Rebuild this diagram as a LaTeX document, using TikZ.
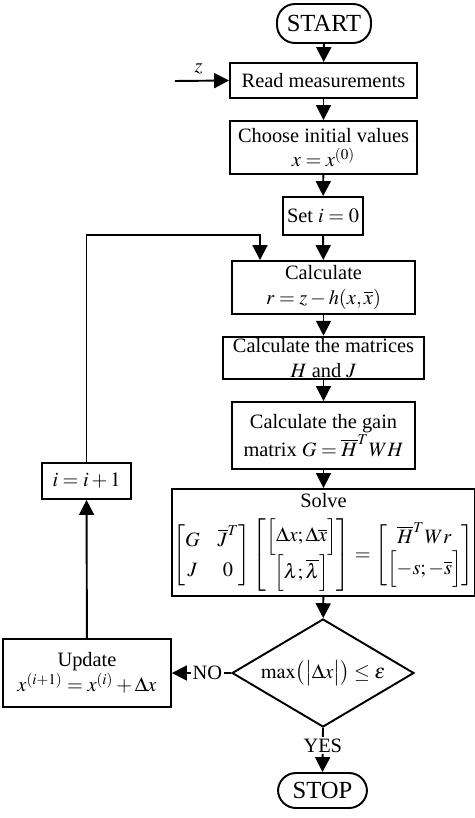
\documentclass[tikz,border=0pt]{standalone}
\usepackage{amsmath}
\usepackage{mathptmx}
\usepackage{fontspec}
\setmainfont{Liberation Serif}
\usetikzlibrary{arrows.meta,shapes.geometric}

\begin{document}
\begin{tikzpicture}[x=0.02cm, y=-0.02cm,
    every node/.style={font=\fontsize{11.6}{14}\selectfont},
    box/.style={draw, line width=1.1pt, align=center, inner sep=1pt},
    term/.style={draw, line width=1.1pt, rounded corners=0.36cm, inner sep=1pt,
        font=\fontsize{14}{16}\selectfont},
    test/.style={draw, line width=1.1pt, diamond, aspect=1.7, inner sep=0pt,
        minimum width=3.64cm, minimum height=2.16cm},
    arr/.style={line width=1.1pt, -{Triangle[length=8.5pt,width=8.5pt]}},
    lbl/.style={fill=white, inner sep=1pt}]
    \useasboundingbox (0,0) rectangle (474,818);

    % main column
    \node [term, minimum width=1.88cm, minimum height=0.78cm] (start) at (324,23.5) {START};
    \node [box, minimum width=3.74cm, minimum height=0.70cm] (read) at (323.5,80.5) {Read measurements};
    \node [box, minimum width=3.74cm, minimum height=1.06cm] (init) at (323.5,147.5)
        {Choose initial values\\ $x=x^{(0)}$};
    \node [box, minimum width=1.60cm, minimum height=0.76cm] (seti) at (323,216) {Set $i=0$};
    \node [box, minimum width=3.66cm, minimum height=1.06cm] (calcr) at (323.5,287.5)
        {Calculate\\ $r=z-h(x,\overline{x})$};
    \node [box, minimum width=4.02cm, minimum height=0.84cm] (matr) at (323.5,358)
        {Calculate the matrices\\ $H$ and $J$};
    \node [box, minimum width=3.66cm, minimum height=1.34cm] (gain) at (323.5,435.5)
        {Calculate the gain\\ matrix $G=\overline{H}^TWH$};
    \node [box, minimum width=5.94cm, minimum height=2.14cm] (solve) at (323.5,542.5)
        {Solve\\[5pt] $\begin{bmatrix} G & \overline{J}^T\\[3pt] J & 0 \end{bmatrix}
        \begin{bmatrix} \Bigl[\Delta x;\Delta\overline{x}\Bigr]\\ \Bigl[\lambda;\overline{\lambda}\Bigr] \end{bmatrix}
        = \begin{bmatrix} \overline{H}^TWr\\ \Bigl[-s;-\overline{s}\Bigr] \end{bmatrix}$};
    \node [test] (check) at (323,673) {$\max\bigl(\bigl|\Delta x\bigr|\bigr)\le\varepsilon$};
    \node [term, minimum width=1.78cm, minimum height=0.70cm] (stop) at (322.5,790.5) {STOP};

    % loop column
    \node [box, minimum width=3.36cm, minimum height=1.36cm] (update) at (87,673)
        {Update\\ $x^{(i+1)}=x^{(i)}+\Delta x$};
    \node [box, minimum width=1.78cm, minimum height=0.72cm] (incr) at (86.5,481) {$i=i+1$};

    \coordinate (zin) at (175,81);
    \coordinate (lp) at (260,235);

    \draw [arr] (zin) -- (read.west) node [midway, above, xshift=-2pt] {$z$};
    \draw [arr] (start) -- (read);
    \draw [arr] (read) -- (init);
    \draw [arr] (init) -- (seti);
    \draw [arr] (seti) -- (calcr);
    \draw [arr] (calcr) -- (matr);
    \draw [arr] (matr) -- (gain);
    \draw [arr] (gain) -- (solve);
    \draw [arr] (solve) -- (check);
    \draw [arr] (check.south) -- (stop.north) node [lbl, pos=0.4] {YES};
    \draw [arr] (check.west) -- (update.east) node [lbl, pos=0.4] {NO};
    \draw [arr] (update) -- (incr);
    \draw [arr] (incr.north) |- (lp) -- (lp |- calcr.north);
\end{tikzpicture}
\end{document}
